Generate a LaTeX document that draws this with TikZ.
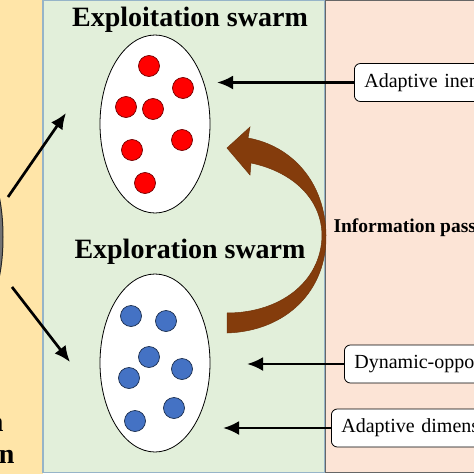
\documentclass[tikz,border=0pt]{standalone}
\usepackage{fontspec}
\setmainfont{Liberation Serif}
\usepackage{tikz}
\usetikzlibrary{arrows.meta,shapes.geometric}
\definecolor{popyellow}{RGB}{255,229,168}
\definecolor{swarmgreen}{RGB}{226,239,218}
\definecolor{stratpeach}{RGB}{252,228,214}
\definecolor{passbrown}{RGB}{132,60,12}
\definecolor{ptblue}{RGB}{68,114,196}
\definecolor{edgeblue}{RGB}{150,180,200}
\tikzset{
  swarm_title/.style = {font=\fontsize{28}{32}\selectfont\bfseries},% titre d'essaim
  swarm_set/.style = {ellipse, draw=black, fill=white, line width=0.8pt,
    minimum width=110pt, minimum height=178pt, inner sep=0pt},% ensemble de l'essaim
  pt_r/.style = {circle, draw=red!45!black, fill=red, line width=0.7pt,
    minimum size=21pt, inner sep=0pt},% particule rouge
  pt_b/.style = {circle, draw=ptblue!40!black, fill=ptblue, line width=0.7pt,
    minimum size=21pt, inner sep=0pt},% particule bleue
  strat/.style = {rectangle, rounded corners=6pt, draw=black, fill=white,
    line width=0.8pt, anchor=west, minimum height=38pt, inner xsep=10pt,
    text width=190pt, align=left, font=\fontsize{20}{24}\selectfont},% strategie
  arr/.style = {-{Latex[length=16pt,width=14pt]}, line width=2.7pt}
}

\begin{document}
\begin{tikzpicture}[x=1pt,y=-1pt]
    \useasboundingbox (0,0) rectangle (474,474);
    \clip (0,0) rectangle (474,474);
    % panels
    \fill[popyellow] (-5,-5) rectangle (43,480);
    \filldraw[fill=swarmgreen, draw=edgeblue, line width=1.2pt] (43,0.5) rectangle (325,472.5);
    \filldraw[fill=stratpeach, draw=black!60, line width=1pt] (325,0.5) rectangle (490,472.5);
    % population
    \node [ellipse, draw=black!85, fill=black!55, line width=1pt,
        minimum width=34pt, minimum height=128pt] (pop) at (-14,237) {};
    \node [swarm_title, anchor=east] (popa) at (7,425) {n};
    \node [swarm_title, anchor=east] (popb) at (18,457) {on};
    % exploitation swarm
    \node [swarm_title] (titx) at (190,20) {Exploitation swarm};
    \node [swarm_set] (exploit) at (155,124) {};
    \node [pt_r] (r1) at (149,66) {};
    \node [pt_r] (r2) at (183,88) {};
    \node [pt_r] (r3) at (126,107) {};
    \node [pt_r] (r4) at (153,109) {};
    \node [pt_r] (r5) at (182,140) {};
    \node [pt_r] (r6) at (132,150) {};
    \node [pt_r] (r7) at (145,183) {};
    % exploration swarm
    \node [swarm_title] (titr) at (190,252) {Exploration swarm};
    \node [swarm_set] (explore) at (155,363) {};
    \node [pt_b] (b1) at (131,316) {};
    \node [pt_b] (b2) at (166,321) {};
    \node [pt_b] (b3) at (149,357) {};
    \node [pt_b] (b4) at (182,369) {};
    \node [pt_b] (b5) at (129,378) {};
    \node [pt_b] (b6) at (174,408) {};
    \node [pt_b] (b7) at (135,421) {};
    % split arrows
    \coordinate (s1) at (8,197);
    \coordinate (t1) at (66,113);
    \coordinate (s2) at (12,287);
    \coordinate (t2) at (70,362);
    \draw[arr] (s1) -- (t1);
    \draw[arr] (s2) -- (t2);
    % information passing
    \filldraw[fill=passbrown, draw=passbrown!85!black, line width=0.5pt]
        (227,333) .. controls (287,331) and (327,290) .. (326,235)
        .. controls (325,182) and (292,146) .. (248,138)
        -- (250,127) -- (227,148) -- (250,175) -- (251,163)
        .. controls (294,172) and (322,200) .. (322,236)
        .. controls (321,282) and (280,313) .. (227,313) -- cycle;
    \node [anchor=west, font=\fontsize{19.5}{22}\selectfont\bfseries] (info) at (330,228) {Information pass};
    % strategies
    \node [strat] (aiw) at (354,82.5) {Adaptive iner};
    \node [strat] (dob) at (344,364) {Dynamic-oppo};
    \node [strat] (adl) at (331,428) {Adaptive dimens};
    \coordinate (a1) at (217,82.5);
    \coordinate (a2) at (247,364);
    \coordinate (a3) at (223,428);
    \draw[arr] (aiw.west) -- (a1);
    \draw[arr] (dob.west) -- (a2);
    \draw[arr] (adl.west) -- (a3);
\end{tikzpicture}
\end{document}
